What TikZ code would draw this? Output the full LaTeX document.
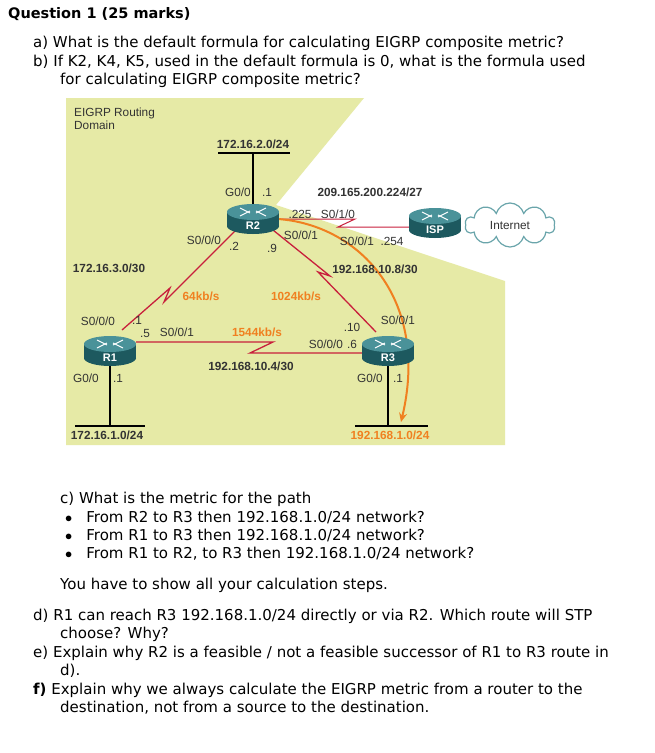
\documentclass[tikz,border=0pt]{standalone}
\usepackage{fontspec}
\setmainfont{DejaVu Sans}
\newfontfamily\arialf{Liberation Sans}
\usetikzlibrary{shapes.symbols,arrows.meta}
\definecolor{dgreen}{HTML}{E6EAA6}
\definecolor{ser}{HTML}{C8203C}
\definecolor{org}{HTML}{F08020}
\definecolor{teal}{HTML}{2A7F87}
\definecolor{lab}{HTML}{333333}
\tikzset{
 qt/.style={anchor=base west,inner sep=0pt,font=\fontsize{15}{18}\selectfont},
 lb/.style={inner sep=0pt,font=\arialf\fontsize{11.8}{13}\selectfont,text=lab},
 nb/.style={inner sep=0pt,font=\arialf\bfseries\fontsize{11.8}{13}\selectfont,text=lab},
 ob/.style={inner sep=0pt,font=\arialf\bfseries\fontsize{11.8}{13}\selectfont,text=org},
 serial/.style={ser,line width=1.3pt},
 eth/.style={black,line width=1.5pt},
 pics/router/.style={code={
   \fill[teal!70!black] (0,8) ellipse[x radius=26,y radius=8];
   \fill[teal!70!black] (-26,-6) rectangle (26,8);
   \fill[teal!85!white] (0,-6) ellipse[x radius=26,y radius=8];
   \draw[white,line width=1pt] (-13,-10)--(-3,-5) (13,-10)--(3,-5) (-13,-2)--(-3,-7) (13,-2)--(3,-7);
   \node[font=\arialf\bfseries\fontsize{11}{12}\selectfont,text=white] at (0,8) {#1};
 }}
}
\begin{document}
\begin{tikzpicture}[x=1pt,y=-1pt]
\useasboundingbox (0,0) rectangle (655,753);
\fill[white] (0,0) rectangle (655,753);
% text
\node[qt,font=\bfseries\fontsize{14.5}{17}\selectfont] (q1) at (8,18) {Question 1 (25 marks)};
\node[qt] (qa) at (33,47) {a) What is the default formula for calculating EIGRP composite metric?};
\node[qt] (qb) at (33,66) {b) If K2, K4, K5, used in the default formula is 0, what is the formula used};
\node[qt] (qb2) at (60,84) {for calculating EIGRP composite metric?};
% diagram background
\fill[dgreen] (66,98) -- (364,98) -- (276,205) -- (505,281) -- (505,445) -- (66,445) -- cycle;
\node[lb,anchor=north west,align=left] (dom) at (74,108) {EIGRP Routing\\Domain};
% ethernet
\coordinate (r2c) at (253,218);
\coordinate (r1c) at (110,350);
\coordinate (r3c) at (388,350);
\coordinate (ispc) at (435,222);
\draw[eth] (218,153) -- (290,153);
\draw[eth] (253,153) -- (r2c);
\draw[eth] (75,426) -- (145,426);
\draw[eth] (110,426) -- (r1c);
\draw[eth] (355,426) -- (428,426);
\draw[eth] (388,426) -- (r3c);
% serial links
\draw[serial] (122,330) -- (170,288) -- (164,302) -- (240,226);
\draw[serial] (268,226) -- (330,276) -- (318,272) -- (376,332);
\draw[serial] (136,342) -- (273,342) -- (250,353) -- (362,353);
\draw[serial,line width=1pt] (278,219) -- (355,219) -- (338,227) -- (412,227);
% orange arrow
\draw[org,line width=2pt,-{Stealth[length=9pt,width=8pt]}] (278,219) .. controls (360,225) and (430,300) .. (401,422);
% routers
\pic (R2) at (r2c) {router=R2};
\pic (R1) at (r1c) {router=R1};
\pic (R3) at (r3c) {router=R3};
\pic (ISP) at (ispc) {router=ISP};
\node[cloud,cloud puffs=10,aspect=2.2,draw=teal!70,line width=1.2pt,fill=white,minimum width=90pt,minimum height=44pt,lb] (inet) at (510,225) {Internet};
% labels
\node[nb] (n2) at (253,144) {172.16.2.0/24};
\node[lb] (a1) at (238,192) {G0/0};
\node[lb] (a2) at (267,192) {.1};
\node[nb] (n3) at (370,192) {209.165.200.224/27};
\node[lb] (a3) at (300,214) {.225};
\node[lb] (a4) at (338,214) {S0/1/0};
\node[lb] (a5) at (301,235) {S0/0/1};
\node[lb] (a6) at (357,241) {S0/0/1};
\node[lb] (a7) at (392,241) {.254};
\node[lb] (a8) at (204,240) {S0/0/0};
\node[lb] (a9) at (234,246) {.2};
\node[lb] (a10) at (272,248) {.9};
\node[nb] (n4) at (109,268) {172.16.3.0/30};
\node[nb] (n5) at (375,269) {192.168.10.8/30};
\node[ob] (b1) at (201,296) {64kb/s};
\node[ob] (b2) at (296,296) {1024kb/s};
\node[lb] (a11) at (98,321) {S0/0/0};
\node[lb] (a12) at (137,320) {.1};
\node[lb] (a13) at (145,333) {.5};
\node[lb] (a14) at (177,332) {S0/0/1};
\node[ob] (b3) at (257,332) {1544kb/s};
\node[lb] (a15) at (352,327) {.10};
\node[lb] (a16) at (398,320) {S0/0/1};
\node[lb] (a17) at (326,344) {S0/0/0};
\node[lb] (a18) at (352,344) {.6};
\node[nb] (n6) at (251,366) {192.168.10.4/30};
\node[lb] (a19) at (86,378) {G0/0};
\node[lb] (a20) at (118,378) {.1};
\node[lb] (a21) at (370,378) {G0/0};
\node[lb] (a22) at (398,378) {.1};
\node[nb] (n7) at (107,435) {172.16.1.0/24};
\node[ob] (n8) at (390,435) {192.168.1.0/24};
% lower text
\node[qt] (qc) at (60,503) {c) What is the metric for the path};
\node[qt] (c1) at (65,522) {$\bullet$\hspace{14pt}From R2 to R3 then 192.168.1.0/24 network?};
\node[qt] (c2) at (65,540) {$\bullet$\hspace{14pt}From R1 to R3 then 192.168.1.0/24 network?};
\node[qt] (c3) at (65,558) {$\bullet$\hspace{14pt}From R1 to R2, to R3 then 192.168.1.0/24 network?};
\node[qt] (s) at (60,589) {You have to show all your calculation steps.};
\node[qt] (qd) at (33,620) {d) R1 can reach R3 192.168.1.0/24 directly or via R2. Which route will STP};
\node[qt] (qd2) at (60,638) {choose? Why?};
\node[qt] (qe) at (33,657) {e) Explain why R2 is a feasible / not a feasible successor of R1 to R3 route in};
\node[qt] (qe2) at (60,675) {d).};
\node[qt] (qf) at (33,694) {\textbf{f)} Explain why we always calculate the EIGRP metric from a router to the};
\node[qt] (qf2) at (60,712) {destination, not from a source to the destination.};
\end{tikzpicture}
\end{document}
